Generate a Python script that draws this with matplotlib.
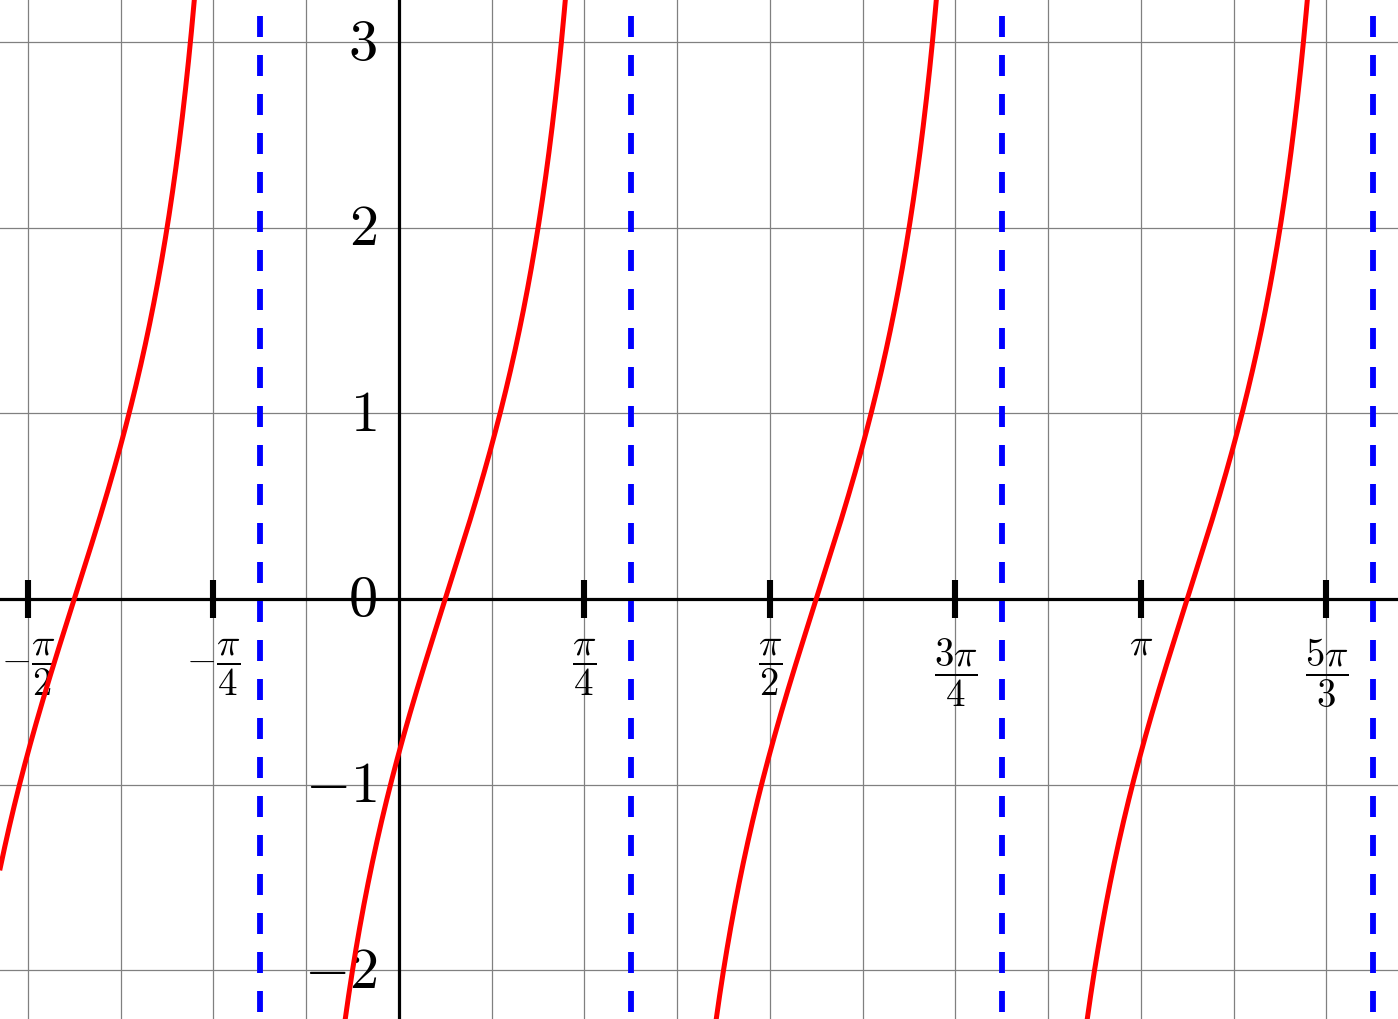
import numpy as np
import matplotlib
matplotlib.use("Agg")
import matplotlib.pyplot as plt

plt.rcParams['mathtext.fontset'] = 'cm'

# --- data ---
amplitude = 2.0          # f(x) = amplitude * tan(freq*x - phase)
freq = 2.0
phase = np.pi / 8
x_limits = (-1.689, 4.230)
y_limits = (-2.264, 3.234)
asymptotes = [-3*np.pi/16, 5*np.pi/16, 13*np.pi/16, 21*np.pi/16]
xtick_pos = [-np.pi/2, -np.pi/4, np.pi/4, np.pi/2, 3*np.pi/4, np.pi, 5*np.pi/4]
xtick_labels = [r'$-\dfrac{\pi}{2}$', r'$-\dfrac{\pi}{4}$', r'$\dfrac{\pi}{4}$',
                r'$\dfrac{\pi}{2}$', r'$\dfrac{3\pi}{4}$', r'$\pi$', r'$\dfrac{5\pi}{3}$']
ytick_pos = [3, 2, 1, 0, -1, -2]
ytick_labels = [r'$3$', r'$2$', r'$1$', r'$0$', r'$-1$', r'$-2$']
xgrid = np.arange(-4, 12) * np.pi / 8
ygrid = [-2, -1, 0, 1, 2, 3]

fig = plt.figure(figsize=(13.98, 10.2), dpi=100)
ax = fig.add_axes([0, 0, 1, 1])
for s in ax.spines.values():
    s.set_visible(False)

ax.set_xticks(xgrid)
ax.set_yticks(ygrid)
ax.set_xlim(*x_limits)
ax.set_ylim(*y_limits)
ax.tick_params(length=0, labelbottom=False, labelleft=False)
ax.grid(True, color='#808080', lw=0.9, zorder=0)
ax.set_axisbelow(True)

# axes lines
ax.axhline(0, color='black', lw=2.3, zorder=2)
ax.axvline(0, color='black', lw=2.3, zorder=2)

# asymptotes
lw_as = 4.2
lwpx = lw_as * 100 / 72
for a in asymptotes:
    ax.plot([a, a], [y_limits[1], y_limits[0]], color='blue', lw=lw_as,
            ls=(22/lwpx, (21/lwpx, 18/lwpx)), zorder=3, dash_capstyle='butt')

# curve branches
edges = [x_limits[0]] + asymptotes + [x_limits[1]]
for lo, hi in zip(edges[:-1], edges[1:]):
    xs = np.linspace(lo + 1e-3, hi - 1e-3, 800)
    ys = amplitude * np.tan(freq * xs - phase)
    ax.plot(xs, ys, color='red', lw=3.6, zorder=5)

# x ticks
ax.plot(xtick_pos, [0]*len(xtick_pos), ls='none', marker='|', color='black',
        markersize=27.5, markeredgewidth=4.4, zorder=6)

ax.set_xlim(*x_limits)
ax.set_ylim(*y_limits)

# labels
for xp, lab in zip(xtick_pos, xtick_labels):
    yoff = -0.2 if lab != r'$\pi$' else -0.13
    ax.text(xp, yoff, lab, ha='center', va='top', fontsize=28, zorder=4)
for yp, lab in zip(ytick_pos, ytick_labels):
    ax.text(-0.093, yp, lab, ha='right', va='center', fontsize=42, zorder=4)

fig.savefig('out.png', dpi=100)
